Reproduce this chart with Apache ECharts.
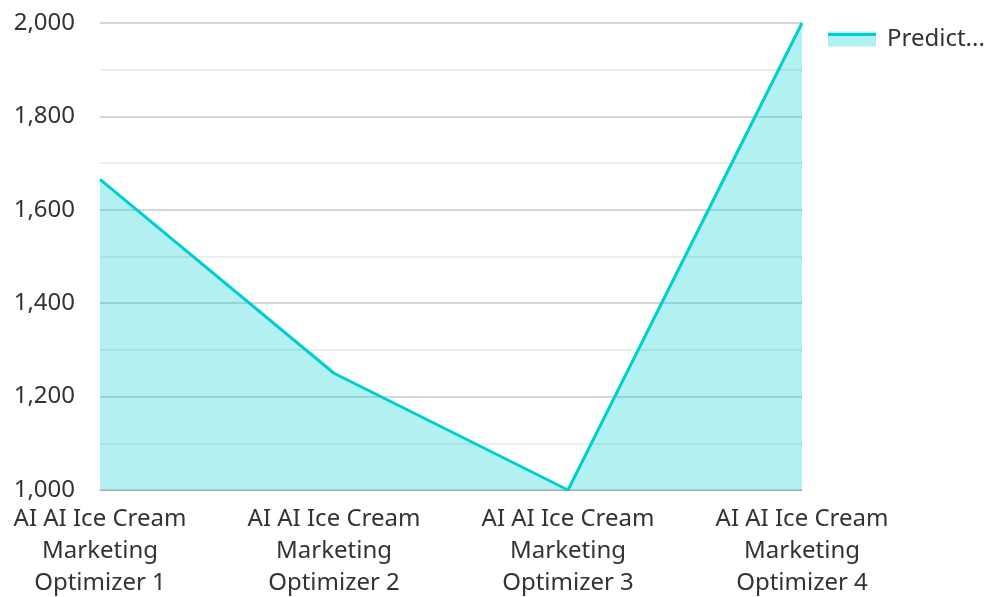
<!DOCTYPE html>
<html><head><meta charset="utf-8">
<script src="https://cdn.jsdelivr.net/npm/echarts@6/dist/echarts.min.js"></script>
<style>html,body{margin:0;padding:0;background:#fff}#c{width:989px;height:597px}</style>
</head><body><div id="c"></div>
<script>
const categories = ["AI AI Ice Cream Marketing Optimizer 1","AI AI Ice Cream Marketing Optimizer 2","AI AI Ice Cream Marketing Optimizer 3","AI AI Ice Cream Marketing Optimizer 4"];
const seriesName = "Predicted";
const values = [1665, 1250, 1000, 2000];
const yMin = 1000, yMax = 2000, yStep = 200;

const chart = echarts.init(document.getElementById('c'));
chart.setOption({
  animation: false,
  textStyle: { fontFamily: 'Noto Sans' },
  legend: {
    left: 823, top: 22, itemWidth: 48, itemHeight: 15, itemGap: 11,
    icon: 'rect',
    itemStyle: { color: '#b2f0f1' },
    textStyle: { fontSize: 24, color: '#333', width: 106, padding: [0, 0, 0, 6], overflow: 'truncate', ellipsis: '...' },
    data: [seriesName]
  },
  graphic: [{
    type: 'rect', left: 828, top: 33, shape: { width: 48, height: 3 }, style: { fill: '#00CED1' }, z: 100
  }],
  grid: { left: 100, right: 187, top: 23, bottom: 107, outerBoundsMode: 'none', containLabel: false },
  xAxis: {
    type: 'category', data: categories, boundaryGap: false,
    axisLine: { lineStyle: { color: '#aaa' } },
    axisTick: { show: false },
    axisLabel: {
      fontSize: 24, color: '#333', lineHeight: 32, margin: 13, interval: 0,
      formatter: v => { const m = v.match(/^(.*Cream) (Marketing) (.*)$/); return m ? m[1] + '\n' + m[2] + '\n' + m[3] : v; }
    }
  },
  yAxis: {
    type: 'value', min: yMin, max: yMax, interval: yStep,
    axisLine: { show: false }, axisTick: { show: false },
    axisLabel: { fontSize: 24, color: '#333', margin: 25, formatter: v => v.toLocaleString('en-US') },
    splitLine: { lineStyle: { color: '#c8c8c8', width: 1.5 } },
    minorTick: { show: false, splitNumber: 2 },
    minorSplitLine: { show: true, lineStyle: { color: '#e6e6e6', width: 1.5 } }
  },
  series: [{
    name: seriesName, type: 'line', data: values,
    symbol: 'none', showSymbol: false,
    lineStyle: { color: '#00CED1', width: 3 },
    itemStyle: { color: '#00CED1' },
    areaStyle: { color: '#00CED1', opacity: 0.3 }
  }]
});
</script></body></html>
